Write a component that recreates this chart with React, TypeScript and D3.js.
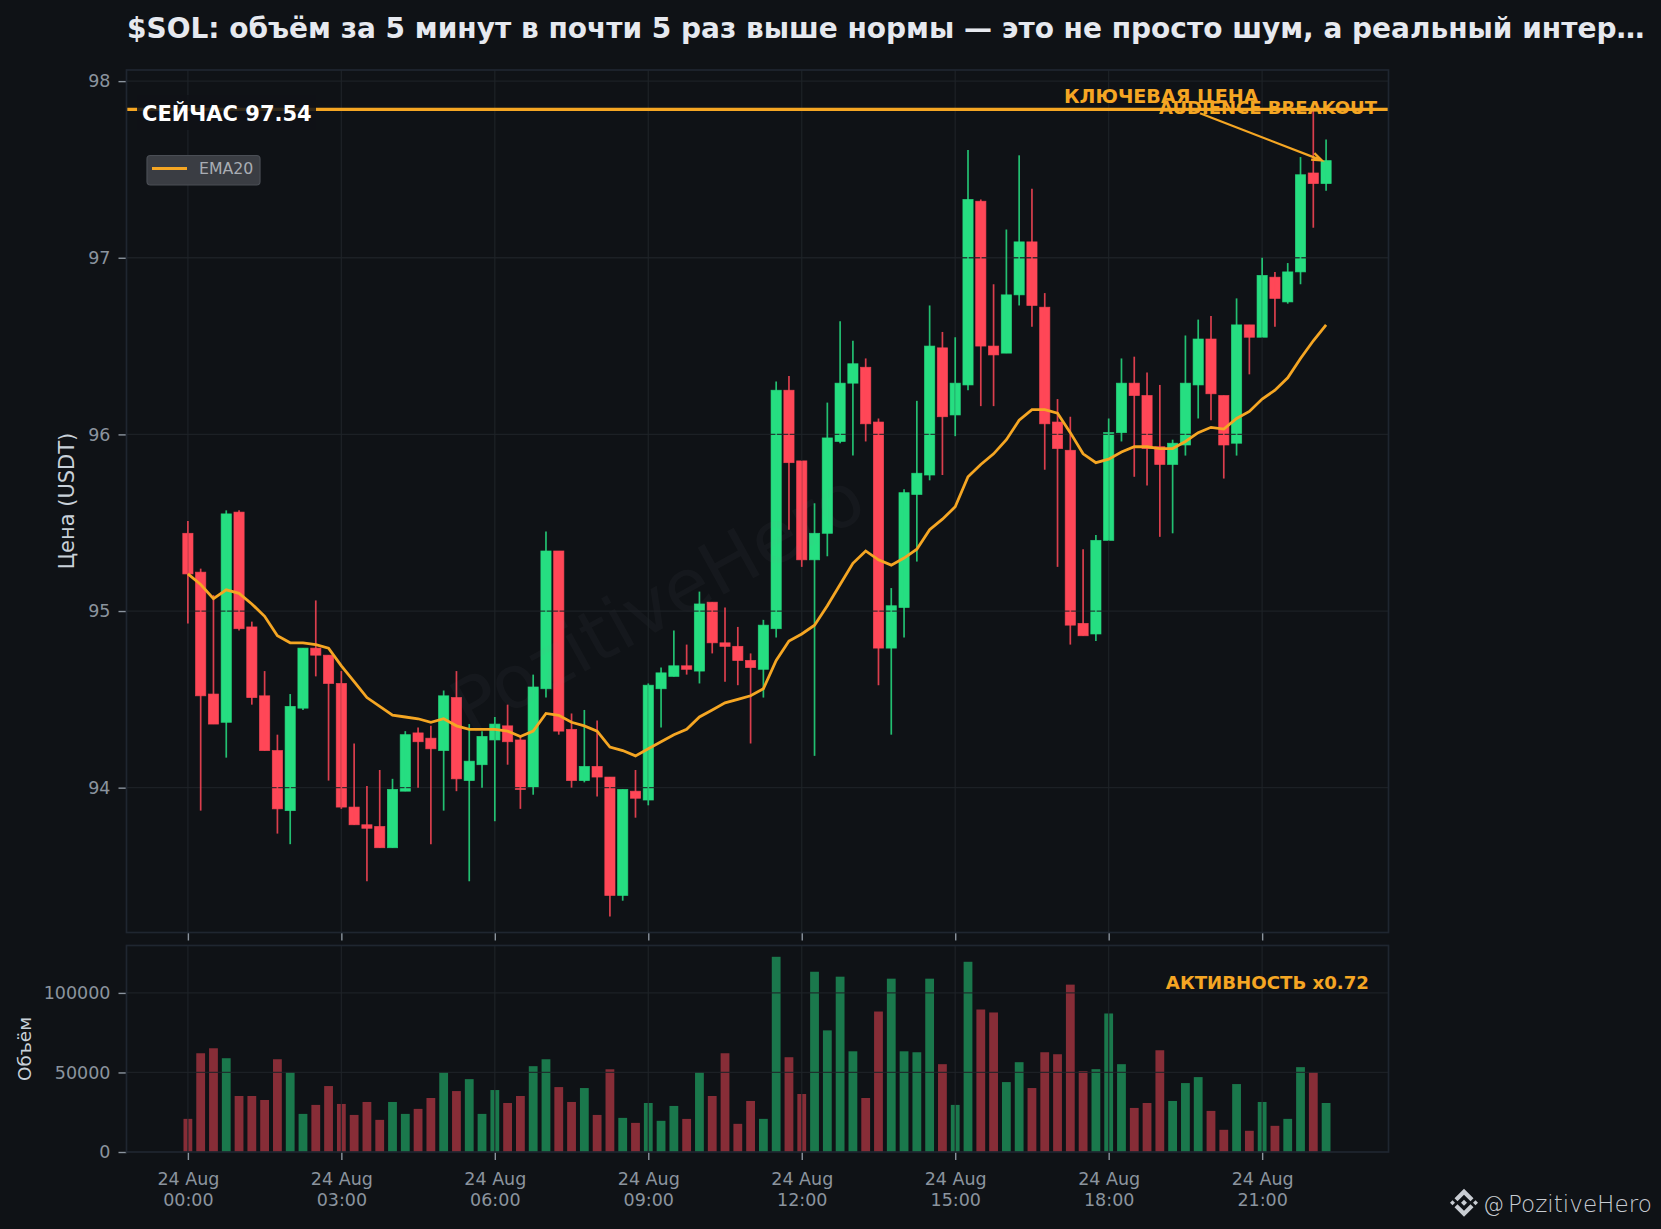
import React, { useRef, useEffect } from 'react';
import * as d3 from 'd3';

const opens = [95.44, 95.22, 94.53, 94.37, 95.56, 94.91, 94.52, 94.21, 93.87, 94.45, 94.79, 94.75, 94.59, 93.89, 93.79, 93.78, 93.66, 93.98, 94.31, 94.28, 94.21, 94.51, 94.04, 94.13, 94.27, 94.35, 94.27, 94.0, 94.56, 95.34, 94.33, 94.04, 94.12, 94.06, 93.39, 93.98, 93.93, 94.56, 94.63, 94.69, 94.66, 95.05, 94.82, 94.8, 94.72, 94.67, 94.9, 96.25, 95.85, 95.29, 95.44, 95.96, 96.29, 96.38, 96.07, 94.79, 95.02, 95.66, 95.77, 96.49, 96.11, 96.28, 97.32, 96.5, 96.46, 96.79, 97.09, 96.72, 96.07, 95.91, 94.93, 94.87, 95.4, 96.01, 96.29, 96.22, 95.93, 95.83, 95.94, 96.28, 96.54, 96.22, 95.95, 96.62, 96.55, 96.89, 96.75, 96.92, 97.48, 97.42];
const highs = [95.51, 95.24, 95.09, 95.57, 95.57, 94.94, 94.66, 94.3, 94.53, 94.79, 95.06, 94.75, 94.66, 94.25, 94.01, 94.1, 94.05, 94.32, 94.34, 94.35, 94.55, 94.66, 94.36, 94.32, 94.4, 94.47, 94.29, 94.64, 95.45, 95.34, 94.42, 94.44, 94.38, 94.06, 93.99, 94.1, 94.59, 94.68, 94.89, 94.81, 95.11, 95.05, 95.02, 94.91, 94.76, 94.95, 96.3, 96.33, 95.85, 95.61, 96.18, 96.64, 96.53, 96.43, 96.09, 95.13, 95.69, 96.19, 96.73, 96.58, 96.55, 97.61, 97.33, 96.85, 97.16, 97.58, 97.39, 96.8, 96.2, 96.1, 95.35, 95.43, 96.09, 96.43, 96.44, 96.35, 96.28, 95.97, 96.56, 96.65, 96.67, 96.22, 96.77, 96.62, 97.0, 96.92, 96.97, 97.57, 97.84, 97.67];
const lows = [94.93, 93.87, 94.36, 94.17, 94.89, 94.47, 94.21, 93.74, 93.68, 94.44, 94.63, 94.04, 93.88, 93.79, 93.47, 93.66, 93.66, 93.98, 94.0, 93.68, 93.87, 93.98, 93.47, 94.0, 93.81, 94.13, 93.88, 93.96, 94.51, 94.3, 94.0, 94.03, 93.95, 93.27, 93.36, 93.83, 93.9, 94.34, 94.63, 94.64, 94.59, 94.76, 94.6, 94.58, 94.25, 94.51, 94.85, 95.46, 95.25, 94.18, 95.31, 95.95, 95.88, 95.96, 94.58, 94.3, 94.85, 95.28, 95.74, 95.77, 95.99, 96.25, 96.16, 96.16, 96.46, 96.73, 96.61, 95.8, 95.25, 94.81, 94.86, 94.83, 95.4, 95.96, 95.76, 95.71, 95.42, 95.44, 95.88, 96.09, 96.08, 95.75, 95.88, 96.34, 96.55, 96.61, 96.74, 96.85, 97.17, 97.38];
const closes = [95.21, 94.52, 94.36, 95.55, 94.9, 94.51, 94.21, 93.88, 94.46, 94.79, 94.75, 94.59, 93.89, 93.79, 93.77, 93.66, 93.99, 94.3, 94.26, 94.22, 94.52, 94.05, 94.15, 94.29, 94.36, 94.26, 93.99, 94.57, 95.34, 94.32, 94.04, 94.12, 94.06, 93.39, 93.99, 93.94, 94.58, 94.65, 94.69, 94.67, 95.04, 94.82, 94.8, 94.72, 94.68, 94.92, 96.25, 95.84, 95.29, 95.44, 95.98, 96.29, 96.4, 96.06, 94.79, 95.03, 95.67, 95.78, 96.5, 96.1, 96.29, 97.33, 96.5, 96.45, 96.79, 97.09, 96.73, 96.06, 95.92, 94.92, 94.86, 95.4, 96.01, 96.29, 96.22, 95.92, 95.83, 95.95, 96.29, 96.54, 96.23, 95.94, 96.62, 96.55, 96.9, 96.77, 96.92, 97.47, 97.42, 97.55];
const volumes = [20830, 62070, 65200, 58950, 35200, 35200, 32700, 58300, 50200, 23950, 29600, 41450, 30200, 23300, 31450, 20200, 31450, 23950, 27100, 33950, 50200, 38300, 45800, 23950, 38950, 30800, 35200, 53950, 58300, 40800, 31450, 40200, 23300, 52000, 21450, 18300, 30800, 19600, 28950, 20800, 50200, 35200, 62070, 17700, 32080, 20830, 122700, 59570, 36450, 113300, 76450, 110200, 63300, 33950, 88300, 108950, 63300, 62700, 108950, 55200, 29600, 119570, 89570, 87700, 43950, 56450, 40200, 62700, 61450, 105200, 50800, 52070, 87070, 55200, 27700, 30800, 63950, 32080, 43330, 47080, 25830, 13950, 42700, 13330, 31450, 16450, 20830, 53330, 50200, 30800];
const ema20 = [95.21, 95.15, 95.07, 95.12, 95.1, 95.04, 94.97, 94.86, 94.82, 94.82, 94.81, 94.79, 94.69, 94.6, 94.51, 94.46, 94.41, 94.4, 94.39, 94.37, 94.39, 94.35, 94.33, 94.33, 94.33, 94.32, 94.29, 94.32, 94.42, 94.41, 94.37, 94.35, 94.32, 94.23, 94.21, 94.18, 94.22, 94.26, 94.3, 94.33, 94.4, 94.44, 94.48, 94.5, 94.52, 94.56, 94.72, 94.83, 94.87, 94.92, 95.03, 95.15, 95.27, 95.34, 95.29, 95.26, 95.3, 95.35, 95.46, 95.52, 95.59, 95.76, 95.83, 95.89, 95.97, 96.08, 96.14, 96.14, 96.12, 96.01, 95.89, 95.84, 95.86, 95.9, 95.93, 95.93, 95.92, 95.92, 95.96, 96.01, 96.04, 96.03, 96.09, 96.13, 96.2, 96.25, 96.32, 96.43, 96.53, 96.62];

const priceTicks = [94, 95, 96, 97, 98];
const volumeTicks = [0, 50000, 100000];
const keyPrice = 97.84;
const lastPrice = 97.54;
const titleText = '$SOL: объём за 5 минут в почти 5 раз выше нормы — это не просто шум, а реальный интер…';

const BAR_MS = 15 * 60 * 1000;
const START = Date.UTC(2024, 7, 24, 0, 0);
const HOUR = 60 * 60 * 1000;

const BG = '#0f1216';
const GREEN = '#26de81';
const RED = '#ff4757';
const ORANGE = '#f5a623';
const MUTED = '#8b949e';
const SPINE = '#1f2630';
const FONT = '"DejaVu Sans", sans-serif';

const W = 1661;
const H = 1229;

const App: React.FC = () => {
  const ref = useRef<SVGSVGElement | null>(null);

  useEffect(() => {
    if (!ref.current) return;
    const svg = d3.select(ref.current);
    svg.selectAll('*').remove();

    const left = 126.5;
    const right = 1388.5;
    const times = closes.map((_, i) => new Date(START + i * BAR_MS));

    const x = d3
      .scaleUtc()
      .domain([new Date(START - 1.2 * HOUR), new Date(START + 23.47 * HOUR)])
      .range([left, right]);
    const y = d3.scaleLinear().domain([93.18, 98.063]).range([932.5, 70]);
    const yVol = d3.scaleLinear().domain([0, 129800]).range([1152, 945.5]);

    const xTicks = d3.utcHour.every(3)!.range(new Date(START), new Date(START + 22 * HOUR));
    const bodyW = 10.2;
    const volW = 8.8;

    svg.append('rect').attr('width', W).attr('height', H).attr('fill', BG);

    // title
    svg
      .append('text')
      .attr('x', 127)
      .attr('y', 38)
      .attr('font-size', 28)
      .attr('font-weight', 'bold')
      .attr('fill', '#e6e9ef')
      .text(titleText);

    // candle bodies
    const bodies = svg.append('g');
    closes.forEach((c, i) => {
      const color = c >= opens[i] ? GREEN : RED;
      bodies
        .append('rect')
        .attr('x', x(times[i]) - bodyW / 2)
        .attr('y', y(Math.max(c, opens[i])))
        .attr('width', bodyW)
        .attr('height', Math.max(1, Math.abs(y(c) - y(opens[i]))))
        .attr('fill', color)
        .attr('stroke', color)
        .attr('stroke-opacity', 0.8)
        .attr('stroke-width', 0.8);
    });

    // watermark
    svg
      .append('text')
      .attr('transform', `translate(660,607) rotate(-29)`)
      .attr('text-anchor', 'middle')
      .attr('dominant-baseline', 'middle')
      .attr('font-size', 73.5)
      .attr('fill', '#8a8f96')
      .attr('opacity', 0.05)
      .text('PozitiveHero');

    // volume
    const vols = svg.append('g');
    volumes.forEach((v, i) => {
      vols
        .append('rect')
        .attr('x', x(times[i]) - volW / 2)
        .attr('y', yVol(v))
        .attr('width', volW)
        .attr('height', yVol(0) - yVol(v))
        .attr('fill', closes[i] >= opens[i] ? GREEN : RED)
        .attr('opacity', 0.5);
    });

    // grid sits over the bodies but under the wicks, that is the seam in the reference
    const grid = svg.append('g').attr('stroke', '#1f2328').attr('stroke-opacity', 0.85).attr('stroke-width', 1.3);
    xTicks.forEach(t => {
      grid.append('line').attr('x1', x(t)).attr('x2', x(t)).attr('y1', 70).attr('y2', 932.5);
      grid.append('line').attr('x1', x(t)).attr('x2', x(t)).attr('y1', 945.5).attr('y2', 1152);
    });
    priceTicks.forEach(p => {
      grid.append('line').attr('x1', left).attr('x2', right).attr('y1', y(p)).attr('y2', y(p));
    });
    volumeTicks.slice(1).forEach(v => {
      grid.append('line').attr('x1', left).attr('x2', right).attr('y1', yVol(v)).attr('y2', yVol(v));
    });

    // wicks
    const wicks = svg.append('g');
    closes.forEach((c, i) => {
      wicks
        .append('line')
        .attr('x1', x(times[i]))
        .attr('x2', x(times[i]))
        .attr('y1', y(highs[i]))
        .attr('y2', y(lows[i]))
        .attr('stroke', c >= opens[i] ? GREEN : RED)
        .attr('stroke-opacity', 0.85)
        .attr('stroke-width', 1.7);
    });

    // ema
    const line = d3
      .line<number>()
      .x((_, i) => x(times[i]))
      .y(d => y(d));
    svg
      .append('path')
      .datum(ema20)
      .attr('fill', 'none')
      .attr('stroke', ORANGE)
      .attr('stroke-width', 2.8)
      .attr('d', line);

    // key level
    svg
      .append('line')
      .attr('x1', left)
      .attr('x2', right)
      .attr('y1', y(keyPrice))
      .attr('y2', y(keyPrice))
      .attr('stroke', ORANGE)
      .attr('stroke-width', 3.3);

    // axes
    const styleAxis = (g: d3.Selection<SVGGElement, unknown, null, undefined>) => {
      g.select('.domain').remove();
      g.selectAll('.tick line').attr('stroke', MUTED).attr('stroke-width', 1.4);
      g.selectAll('.tick text').attr('fill', MUTED).attr('font-size', 17.5).attr('font-family', FONT);
    };

    svg
      .append('g')
      .attr('transform', `translate(${left},0)`)
      .call(d3.axisLeft(y).tickValues(priceTicks).tickSize(8).tickPadding(8).tickFormat(d => String(d)))
      .call(styleAxis);
    svg
      .append('g')
      .attr('transform', `translate(${left},0)`)
      .call(d3.axisLeft(yVol).tickValues(volumeTicks).tickSize(8).tickPadding(8).tickFormat(d => String(d)))
      .call(styleAxis);
    svg
      .append('g')
      .attr('transform', 'translate(0,932.5)')
      .call(d3.axisBottom(x).tickValues(xTicks).tickSize(8).tickFormat(() => ''))
      .call(styleAxis);

    const fmtDay = d3.utcFormat('%d %b');
    const fmtTime = d3.utcFormat('%H:%M');
    const bottom = svg
      .append('g')
      .attr('transform', 'translate(0,1152)')
      .call(d3.axisBottom(x).tickValues(xTicks).tickSize(8).tickFormat(() => ''))
      .call(styleAxis);
    bottom.selectAll<SVGTextElement, Date>('.tick text').each(function (d) {
      const t = d3.select(this).text('').attr('y', 0).attr('dy', null);
      t.append('tspan').attr('x', 0).attr('y', 33).text(fmtDay(d));
      t.append('tspan').attr('x', 0).attr('y', 54).text(fmtTime(d));
    });

    // spines
    [[70, 932.5], [945.5, 1152]].forEach(([t, b]) => {
      svg
        .append('rect')
        .attr('x', left)
        .attr('y', t)
        .attr('width', right - left)
        .attr('height', b - t)
        .attr('fill', 'none')
        .attr('stroke', SPINE)
        .attr('stroke-width', 1.7);
    });

    // axis titles
    svg
      .append('text')
      .attr('transform', 'translate(74,501) rotate(-90)')
      .attr('text-anchor', 'middle')
      .attr('font-size', 21)
      .attr('fill', '#c9d1d9')
      .text('Цена (USDT)');
    svg
      .append('text')
      .attr('transform', 'translate(31,1049) rotate(-90)')
      .attr('text-anchor', 'middle')
      .attr('font-size', 18.4)
      .attr('fill', '#c9d1d9')
      .text('Объём');

    // current price tag
    svg
      .append('rect')
      .attr('x', 137)
      .attr('y', 95)
      .attr('width', 179)
      .attr('height', 35)
      .attr('fill', BG)
      .attr('opacity', 0.85);
    svg
      .append('text')
      .attr('x', 142)
      .attr('y', 121)
      .attr('font-size', 21)
      .attr('font-weight', 'bold')
      .attr('fill', '#ffffff')
      .text(`СЕЙЧАС ${lastPrice}`);

    // annotations
    svg
      .append('text')
      .attr('x', 1064)
      .attr('y', 102.7)
      .attr('font-size', 19.1)
      .attr('font-weight', 'bold')
      .attr('fill', ORANGE)
      .text('КЛЮЧЕВАЯ ЦЕНА');
    svg
      .append('text')
      .attr('x', 1159)
      .attr('y', 114)
      .attr('font-size', 18)
      .attr('font-weight', 'bold')
      .attr('fill', ORANGE)
      .text('AUDIENCE BREAKOUT');
    const tipX = x(times[89]) - 4.3;
    const tipY = y(lastPrice) - 2;
    svg
      .append('path')
      .attr('d', `M1200,113.3 L${tipX},${tipY} M${tipX - 10.7},${tipY - 0.7} L${tipX},${tipY} L${tipX - 7.4},${tipY - 7.3}`)
      .attr('fill', 'none')
      .attr('stroke', ORANGE)
      .attr('stroke-width', 2.3);
    svg
      .append('text')
      .attr('x', 1369)
      .attr('y', 989)
      .attr('text-anchor', 'end')
      .attr('font-size', 18.15)
      .attr('font-weight', 'bold')
      .attr('fill', ORANGE)
      .text('АКТИВНОСТЬ x0.72');

    // legend
    svg
      .append('rect')
      .attr('x', 147)
      .attr('y', 155.5)
      .attr('width', 113)
      .attr('height', 29.5)
      .attr('rx', 3.5)
      .attr('fill', '#3a3d43')
      .attr('stroke', '#4a4e55')
      .attr('stroke-width', 1.2);
    svg
      .append('line')
      .attr('x1', 152)
      .attr('x2', 187)
      .attr('y1', 168.5)
      .attr('y2', 168.5)
      .attr('stroke', ORANGE)
      .attr('stroke-width', 2.8);
    svg
      .append('text')
      .attr('x', 199)
      .attr('y', 174)
      .attr('font-size', 15.75)
      .attr('fill', '#a9adb4')
      .text('EMA20');

    // corner mark
    const mark = svg.append('g').attr('transform', 'translate(1464,1202.7)').attr('fill', '#c8ccd2');
    [
      'M0,-14 L9.5,-4.5 L6.5,-1.5 L0,-8 L-6.5,-1.5 L-9.5,-4.5 Z',
      'M0,14 L9.5,4.5 L6.5,1.5 L0,8 L-6.5,1.5 L-9.5,4.5 Z',
      'M-14,0 L-11.5,-2.5 L-9,0 L-11.5,2.5 Z',
      'M14,0 L11.5,-2.5 L9,0 L11.5,2.5 Z',
      'M0,-3 L3,0 L0,3 L-3,0 Z'
    ].forEach(d => mark.append('path').attr('d', d));
    svg
      .append('text')
      .attr('x', 1483)
      .attr('y', 1211.5)
      .attr('font-size', 21)
      .attr('font-weight', 200)
      .attr('fill', '#c8ccd2')
      .text('@');
    svg
      .append('text')
      .attr('x', 1508)
      .attr('y', 1211.5)
      .attr('font-size', 23.1)
      .attr('font-weight', 200)
      .attr('fill', '#c8ccd2')
      .text('PozitiveHero');
  }, []);

  return (
    <svg
      ref={ref}
      width={W}
      height={H}
      viewBox={`0 0 ${W} ${H}`}
      style={{ position: 'absolute', left: 0, top: 0, fontFamily: FONT }}
    />
  );
};

export default App;
